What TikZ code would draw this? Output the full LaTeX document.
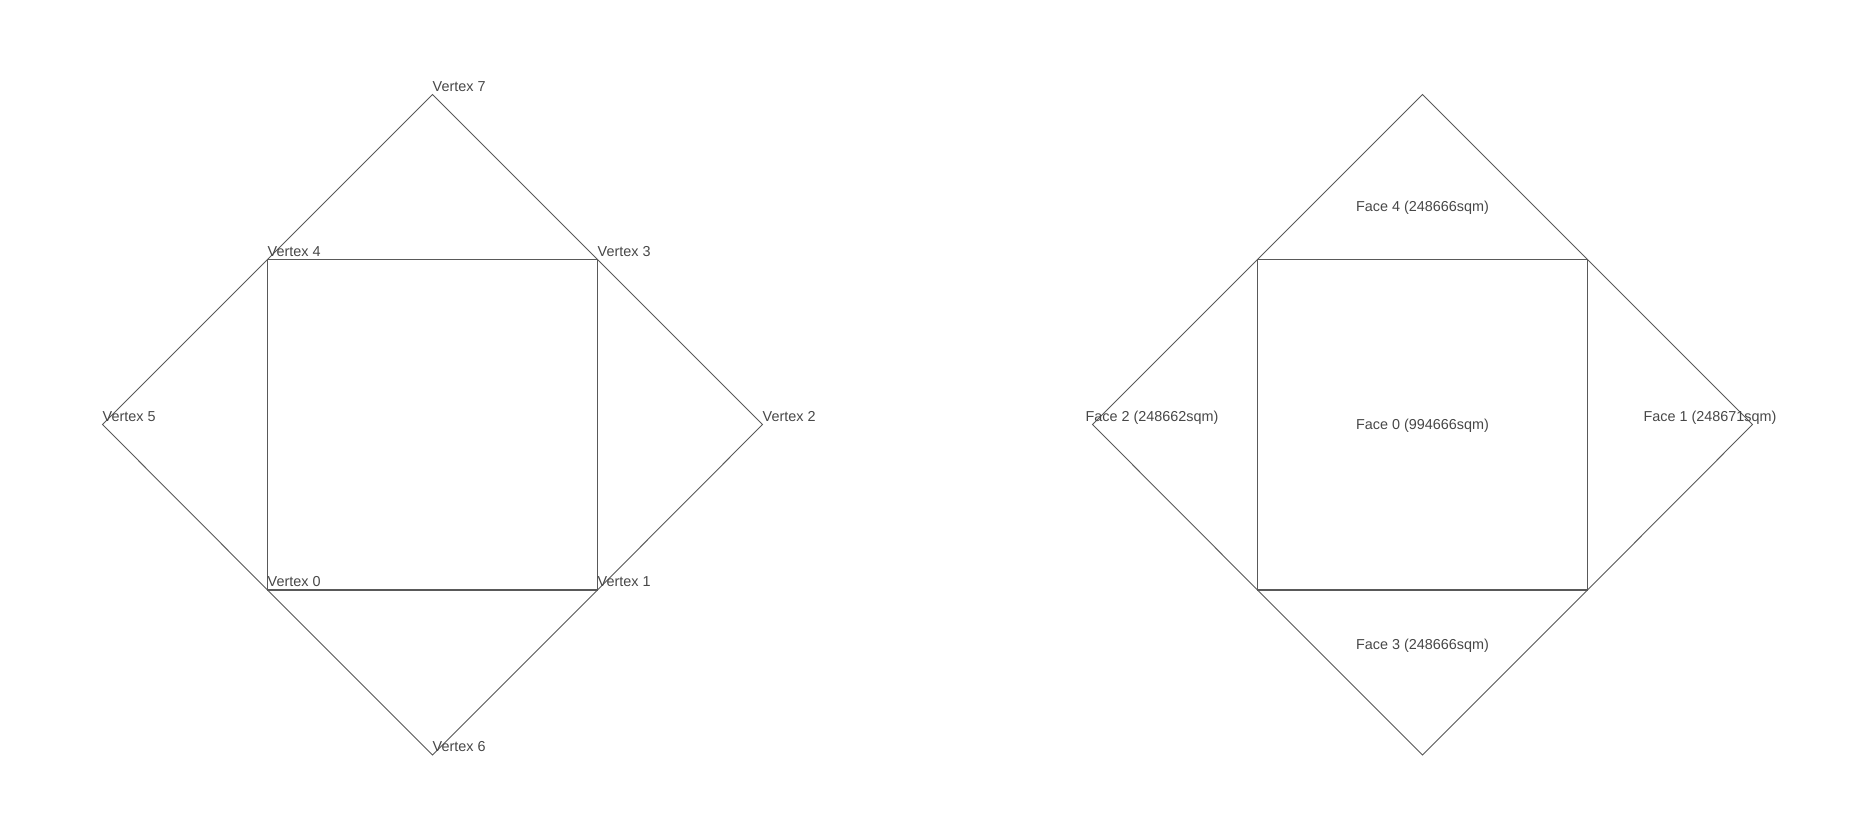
\documentclass[tikz,border=0pt]{standalone}
\usepackage{fontspec}
\setmainfont{Liberation Sans}
\tikzset{rim/.style = {draw=black!65, line width=0.9pt},
         quad/.style = {draw=black!65, line width=1.4pt},
         vlabel/.style = {anchor=base west, inner sep=0pt, text=black!72, font=\fontsize{14.4}{16}\selectfont},
         flabel/.style = {anchor=base, inner sep=0pt, text=black!72, font=\fontsize{14.4}{16}\selectfont}}

\begin{document}
\begin{tikzpicture}[x=1pt, y=-1pt]
    \useasboundingbox (0,0) rectangle (1874,838);
    % left: vertices
    \coordinate (v0) at (267.5,590);
    \coordinate (v1) at (597.5,590);
    \coordinate (v2) at (762.5,424.5);
    \coordinate (v3) at (597.5,259.5);
    \coordinate (v4) at (267.5,259.5);
    \coordinate (v5) at (102.5,424.5);
    \coordinate (v6) at (432.5,755);
    \coordinate (v7) at (432.5,94.5);
    \draw[rim] (v4) -- (v7) -- (v3) -- (v2) -- (v1) -- (v6) -- (v0) -- (v5) -- cycle;
    \draw[quad] (v0) -- (v1) -- (v3) -- (v4) -- cycle;
    \node[vlabel, yshift=3.5pt] (l0) at (v0) {Vertex 0};
    \node[vlabel, yshift=3.5pt] (l1) at (v1) {Vertex 1};
    \node[vlabel, yshift=3.5pt] (l2) at (v2) {Vertex 2};
    \node[vlabel, yshift=3.5pt] (l3) at (v3) {Vertex 3};
    \node[vlabel, yshift=3.5pt] (l4) at (v4) {Vertex 4};
    \node[vlabel, yshift=3.5pt] (l5) at (v5) {Vertex 5};
    \node[vlabel, yshift=3.5pt] (l6) at (v6) {Vertex 6};
    \node[vlabel, yshift=3.5pt] (l7) at (v7) {Vertex 7};
    % right: faces
    \coordinate (f0) at (1257.5,590);
    \coordinate (f1) at (1587.5,590);
    \coordinate (f2) at (1752.5,424.5);
    \coordinate (f3) at (1587.5,259.5);
    \coordinate (f4) at (1257.5,259.5);
    \coordinate (f5) at (1092.5,424.5);
    \coordinate (f6) at (1422.5,755);
    \coordinate (f7) at (1422.5,94.5);
    \draw[rim] (f4) -- (f7) -- (f3) -- (f2) -- (f1) -- (f6) -- (f0) -- (f5) -- cycle;
    \draw[quad] (f0) -- (f1) -- (f3) -- (f4) -- cycle;
    \node[flabel] (face0) at (1422.5,429) {Face 0 (994666sqm)};
    \node[flabel] (face1) at (1710,421) {Face 1 (248671sqm)};
    \node[flabel] (face2) at (1152,421) {Face 2 (248662sqm)};
    \node[flabel] (face3) at (1422.5,649) {Face 3 (248666sqm)};
    \node[flabel] (face4) at (1422.5,211.5) {Face 4 (248666sqm)};
\end{tikzpicture}
\end{document}
